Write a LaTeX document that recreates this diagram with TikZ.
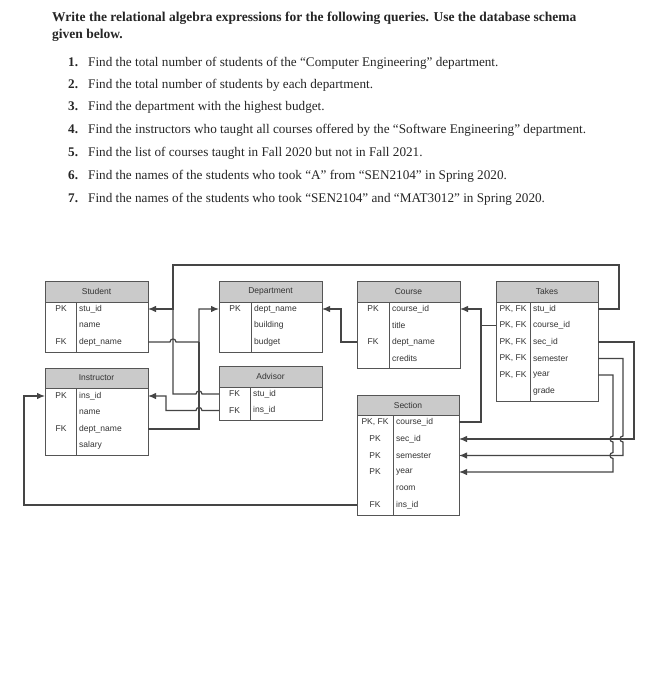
\documentclass[tikz,border=0pt]{standalone}
\usepackage{fontspec}
\setmainfont{Liberation Serif}
\newfontfamily\tabfont{Liberation Sans}
\usetikzlibrary{arrows.meta}
\definecolor{tblline}{HTML}{555555}
\definecolor{hdrfill}{HTML}{CACACA}
\definecolor{txtgray}{HTML}{333333}
\definecolor{connline}{HTML}{454545}
\definecolor{qtext}{HTML}{262626}
\begin{document}
\begin{tikzpicture}[x=1pt,y=-1pt,
  tblbox/.style={draw=tblline, line width=0.9pt, anchor=north west, inner sep=0pt, outer sep=0pt},
  hdr/.style={draw=tblline, fill=hdrfill, line width=0.9pt, anchor=north west, inner sep=0pt, outer sep=0pt, font=\tabfont\fontsize{8.5}{10}\selectfont, text=txtgray},
  fld/.style={anchor=west, inner sep=0pt, font=\tabfont\fontsize{8.5}{10}\selectfont, text=txtgray},
  key/.style={anchor=center, inner sep=0pt, font=\tabfont\fontsize{8.5}{10}\selectfont, text=txtgray},
  tblsep/.style={draw=tblline, line width=0.9pt},
  conn/.style={draw=connline, line width=1.2pt},
  arr/.style={conn, -{Latex[length=8pt,width=6.5pt]}},
  ttl/.style={anchor=base west, inner sep=0pt, text=qtext, font=\bfseries\fontsize{13.5}{16}\selectfont},
  qnum/.style={anchor=base west, inner sep=0pt, text=qtext, font=\bfseries\fontsize{13.2}{15}\selectfont},
  qtxt/.style={anchor=base west, inner sep=0pt, text=qtext, font=\fontsize{13.2}{15}\selectfont},
]
\fill[white] (0,0) rectangle (667,700);
\useasboundingbox (0,0) rectangle (667,700);

% ---- text ----
\node[ttl] (t1) at (52,22) {Write the relational algebra expressions for the following queries. Use the database schema};
\node[ttl] (t2) at (52,39) {given below.};
\node[qnum] (n1) at (68,67) {1.};  \node[qtxt] (q1) at (88,67) {Find the total number of students of the “Computer Engineering” department.};
\node[qnum] (n2) at (68,89) {2.};  \node[qtxt] (q2) at (88,89) {Find the total number of students by each department.};
\node[qnum] (n3) at (68,111) {3.}; \node[qtxt] (q3) at (88,111) {Find the department with the highest budget.};
\node[qnum] (n4) at (68,134) {4.}; \node[qtxt] (q4) at (88,134) {Find the instructors who taught all courses offered by the “Software Engineering” department.};
\node[qnum] (n5) at (68,157) {5.}; \node[qtxt] (q5) at (88,157) {Find the list of courses taught in Fall 2020 but not in Fall 2021.};
\node[qnum] (n6) at (68,180) {6.}; \node[qtxt] (q6) at (88,180) {Find the names of the students who took “A” from “SEN2104” in Spring 2020.};
\node[qnum] (n7) at (68,203) {7.}; \node[qtxt] (q7) at (88,203) {Find the names of the students who took “SEN2104” and “MAT3012” in Spring 2020.};

% ---- Student ----
\node[tblbox, minimum width=103pt, minimum height=71pt] (student) at (45,281) {};
\node[hdr, minimum width=103pt, minimum height=21pt] (student-h) at (45,281) {Student};
\draw[tblsep] (76,302) -- (76,352);
\node[key] (st-k1) at (61,309) {PK};
\node[fld] (st-stu) at (79,309) {stu\_id};
\node[fld] (st-name) at (79,325.5) {name};
\node[key] (st-k3) at (61,342) {FK};
\node[fld] (st-dept) at (79,342) {dept\_name};

% ---- Department ----
\node[tblbox, minimum width=103pt, minimum height=71pt] (department) at (219,281) {};
\node[hdr, minimum width=103pt, minimum height=21pt] (department-h) at (219,281) {Department};
\draw[tblsep] (251,302) -- (251,352);
\node[key] (dp-k1) at (235,309) {PK};
\node[fld] (dp-dept) at (254,309) {dept\_name};
\node[fld] (dp-bld) at (254,325.5) {building};
\node[fld] (dp-bud) at (254,342) {budget};

% ---- Course ----
\node[tblbox, minimum width=103pt, minimum height=87pt] (course) at (357,281) {};
\node[hdr, minimum width=103pt, minimum height=21pt] (course-h) at (357,281) {Course};
\draw[tblsep] (389,302) -- (389,368);
\node[key] (co-k1) at (373,309) {PK};
\node[fld] (co-course) at (392,309) {course\_id};
\node[fld] (co-title) at (392,325.5) {title};
\node[key] (co-k3) at (373,342) {FK};
\node[fld] (co-dept) at (392,342) {dept\_name};
\node[fld] (co-cred) at (392,358.5) {credits};

% ---- Takes ----
\node[tblbox, minimum width=102pt, minimum height=120pt] (takes) at (496,281) {};
\node[hdr, minimum width=102pt, minimum height=21pt] (takes-h) at (496,281) {Takes};
\draw[tblsep] (530,302) -- (530,401);
\node[key] (tk-k1) at (513,309) {PK, FK};
\node[fld] (tk-stu) at (533,309) {stu\_id};
\node[key] (tk-k2) at (513,325.5) {PK, FK};
\node[fld] (tk-course) at (533,325.5) {course\_id};
\node[key] (tk-k3) at (513,342) {PK, FK};
\node[fld] (tk-sec) at (533,342) {sec\_id};
\node[key] (tk-k4) at (513,358.5) {PK, FK};
\node[fld] (tk-sem) at (533,358.5) {semester};
\node[key] (tk-k5) at (513,375) {PK, FK};
\node[fld] (tk-year) at (533,375) {year};
\node[fld] (tk-grade) at (533,391.5) {grade};

% ---- Instructor ----
\node[tblbox, minimum width=103pt, minimum height=87pt] (instructor) at (45,368) {};
\node[hdr, minimum width=103pt, minimum height=20pt] (instructor-h) at (45,368) {Instructor};
\draw[tblsep] (76,388) -- (76,455);
\node[key] (in-k1) at (61,396) {PK};
\node[fld] (in-ins) at (79,396) {ins\_id};
\node[fld] (in-name) at (79,412.5) {name};
\node[key] (in-k3) at (61,429) {FK};
\node[fld] (in-dept) at (79,429) {dept\_name};
\node[fld] (in-sal) at (79,445.5) {salary};

% ---- Advisor ----
\node[tblbox, minimum width=103pt, minimum height=54pt] (advisor) at (219,366) {};
\node[hdr, minimum width=103pt, minimum height=21pt] (advisor-h) at (219,366) {Advisor};
\draw[tblsep] (250,387) -- (250,420);
\node[key] (ad-k1) at (234.5,394) {FK};
\node[fld] (ad-stu) at (253,394) {stu\_id};
\node[key] (ad-k2) at (234.5,410.5) {FK};
\node[fld] (ad-ins) at (253,410.5) {ins\_id};

% ---- Section ----
\node[tblbox, minimum width=102pt, minimum height=120pt] (section) at (357,395) {};
\node[hdr, minimum width=102pt, minimum height=20pt] (section-h) at (357,395) {Section};
\draw[tblsep] (393,415) -- (393,515);
\node[key] (se-k1) at (375,422) {PK, FK};
\node[fld] (se-course) at (396,422) {course\_id};
\node[key] (se-k2) at (375,439) {PK};
\node[fld] (se-sec) at (396,439) {sec\_id};
\node[key] (se-k3) at (375,455.5) {PK};
\node[fld] (se-sem) at (396,455.5) {semester};
\node[key] (se-k4) at (375,472) {PK};
\node[fld] (se-year) at (396,472) {year};
\node[fld] (se-room) at (396,488.5) {room};
\node[key] (se-k6) at (375,505) {FK};
\node[fld] (se-ins) at (396,505) {ins\_id};

% ---- connectors ----
% Takes.stu_id -> Student.stu_id
\draw[arr] (takes.east |- tk-stu) -| (619,265) -| (173,309) -- (student.east |- st-stu);
% Advisor.stu_id -> Student.stu_id
\draw[conn] (advisor.west |- ad-stu) -- (202,394) .. controls (202,390) and (196,390) .. (196,394) -- (173,394) -- (173,309);
% Student.dept_name -> Department.dept_name
\draw[arr] (student.east |- st-dept) -- (170,342) .. controls (170,338) and (176,338) .. (176,342) -- (199,342) |- (department.west |- dp-dept);
% Instructor.dept_name -> Department.dept_name
\draw[conn] (instructor.east |- in-dept) -| (199,342);
% Advisor.ins_id -> Instructor.ins_id
\draw[arr] (advisor.west |- ad-ins) -- (202,410.5) .. controls (202,406.5) and (196,406.5) .. (196,410.5) -- (166,410.5) |- (instructor.east |- in-ins);
% Course.dept_name -> Department.dept_name
\draw[arr] (course.west |- co-dept) -| (341,309) -- (department.east |- dp-dept);
% Takes.course_id -> Course.course_id
\draw[arr] (takes.west |- tk-course) -| (481,309) -- (course.east |- co-course);
% Section.course_id -> Course.course_id
\draw[conn] (section.east |- se-course) -| (481,325.5);
% Takes.sec_id -> Section.sec_id
\draw[arr] (takes.east |- tk-sec) -| (634,439) -- (section.east |- se-sec);
% Takes.semester -> Section.semester
\draw[arr] (takes.east |- tk-sem) -- (623,358.5) -- (623,436) .. controls (619,436) and (619,442) .. (623,442) -- (623,455.5) -- (section.east |- se-sem);
% Takes.year -> Section.year
\draw[arr] (takes.east |- tk-year) -- (613,375) -- (613,436) .. controls (609,436) and (609,442) .. (613,442) -- (613,452.5) .. controls (609,452.5) and (609,458.5) .. (613,458.5) -- (613,472) -- (section.east |- se-year);
% Section.ins_id -> Instructor.ins_id
\draw[arr] (section.west |- se-ins) -| (24,396) -- (instructor.west |- in-ins);
\end{tikzpicture}
\end{document}
